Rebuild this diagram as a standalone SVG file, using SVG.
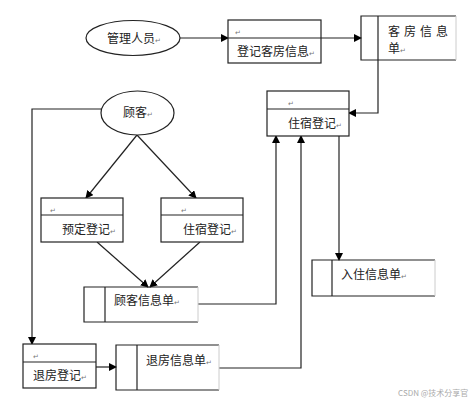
<svg xmlns="http://www.w3.org/2000/svg" width="474" height="401" viewBox="0 0 474 401">
<defs>
<marker id="ah" markerWidth="8" markerHeight="8" refX="7" refY="4" orient="auto" markerUnits="userSpaceOnUse">
<path d="M0,0 L8,4 L0,8 z" fill="#000"/>
</marker>
<style>
.s{fill:#fff;stroke:#222;stroke-width:1.2}
.ln{fill:none;stroke:#222;stroke-width:1.2}
.lt{fill:none;stroke:#ccc;stroke-width:1}
.t{font-family:"Liberation Serif","Noto Sans CJK SC",serif;font-size:12px;fill:#222}
.r{font-family:"DejaVu Sans",sans-serif;font-size:7px;fill:#777}
.c{stroke:#222;stroke-width:1.2;fill:none;marker-end:url(#ah)}
</style>
</defs>
<rect width="474" height="401" fill="#fff"/>
<g id="connectors">
<line class="c" x1="179" y1="38" x2="228" y2="38"/>
<line class="c" x1="321" y1="38" x2="361" y2="38"/>
<polyline class="c" points="378,60 378,113 349,113"/>
<line class="c" x1="137" y1="135" x2="86" y2="198"/>
<line class="c" x1="137" y1="135" x2="196" y2="198"/>
<line class="c" x1="97" y1="242" x2="148" y2="287"/>
<line class="c" x1="200" y1="242" x2="150" y2="287"/>
<polyline class="c" points="101,109 32,109 32,344"/>
<line class="c" x1="96" y1="367" x2="116" y2="367"/>
<polyline class="c" points="198,304 276,304 276,136"/>
<polyline class="c" points="219,368 301,368 301,136"/>
<line class="c" x1="339" y1="136" x2="339" y2="260"/>
</g>
<g id="n-manager">
<ellipse class="s" cx="133" cy="38" rx="47" ry="17.5"/>
<text class="t" x="107" y="43">管理人员<tspan class="r">↵</tspan></text>
</g>
<g id="n-register-room">
<rect class="s" x="228" y="20" width="93" height="43"/>
<line class="ln" x1="228" y1="38" x2="321" y2="38"/>
<text class="r" x="235" y="35">↵</text>
<text class="t" x="237" y="56">登记客房信息<tspan class="r">↵</tspan></text>
</g>
<g id="n-room-info">
<polyline class="ln" points="456,16 361,16 361,60 456,60"/>
<line class="lt" x1="456" y1="16" x2="456" y2="60"/>
<line class="ln" x1="378" y1="16" x2="378" y2="60"/>
<text class="t" x="388" y="36" letter-spacing="4">客房信息</text>
<text class="t" x="388" y="53">单<tspan class="r">↵</tspan></text>
</g>
<g id="n-checkin-top">
<rect class="s" x="267" y="91" width="82" height="45"/>
<line class="ln" x1="267" y1="109" x2="349" y2="109"/>
<text class="r" x="288" y="106">↵</text>
<text class="t" x="288" y="128">住宿登记<tspan class="r">↵</tspan></text>
</g>
<g id="n-customer">
<ellipse class="s" cx="137.5" cy="113" rx="36.5" ry="22"/>
<text class="t" x="123" y="117">顾客<tspan class="r">↵</tspan></text>
</g>
<g id="n-reserve">
<rect class="s" x="41" y="198" width="82" height="44"/>
<line class="ln" x1="41" y1="215" x2="123" y2="215"/>
<text class="r" x="50" y="213">↵</text>
<text class="t" x="62" y="234">预定登记<tspan class="r">↵</tspan></text>
</g>
<g id="n-checkin">
<rect class="s" x="161" y="198" width="82" height="44"/>
<line class="ln" x1="161" y1="215" x2="243" y2="215"/>
<text class="r" x="181" y="213">↵</text>
<text class="t" x="183" y="234">住宿登记<tspan class="r">↵</tspan></text>
</g>
<g id="n-customer-info">
<polyline class="ln" points="198,287 84,287 84,322 198,322"/>
<line class="lt" x1="198" y1="287" x2="198" y2="322"/>
<line class="ln" x1="105" y1="287" x2="105" y2="322"/>
<text class="t" x="114" y="305">顾客信息单<tspan class="r">↵</tspan></text>
</g>
<g id="n-stay-info">
<polyline class="ln" points="435,260 312,260 312,296 435,296"/>
<line class="lt" x1="435" y1="260" x2="435" y2="296"/>
<line class="ln" x1="332" y1="260" x2="332" y2="296"/>
<text class="t" x="341" y="279">入住信息单<tspan class="r">↵</tspan></text>
</g>
<g id="n-checkout">
<rect class="s" x="23" y="344" width="73" height="44"/>
<line class="ln" x1="23" y1="362" x2="96" y2="362"/>
<text class="r" x="33" y="359">↵</text>
<text class="t" x="33" y="380">退房登记<tspan class="r">↵</tspan></text>
</g>
<g id="n-checkout-info">
<polyline class="ln" points="219,345 116,345 116,390 219,390"/>
<line class="lt" x1="219" y1="345" x2="219" y2="390"/>
<line class="ln" x1="137" y1="345" x2="137" y2="390"/>
<text class="t" x="146" y="365">退房信息单<tspan class="r">↵</tspan></text>
</g>
<text x="398" y="396" font-family="'Noto Sans CJK SC',sans-serif" font-size="8" fill="#aaa">CSDN @技术分享官</text>
</svg>
